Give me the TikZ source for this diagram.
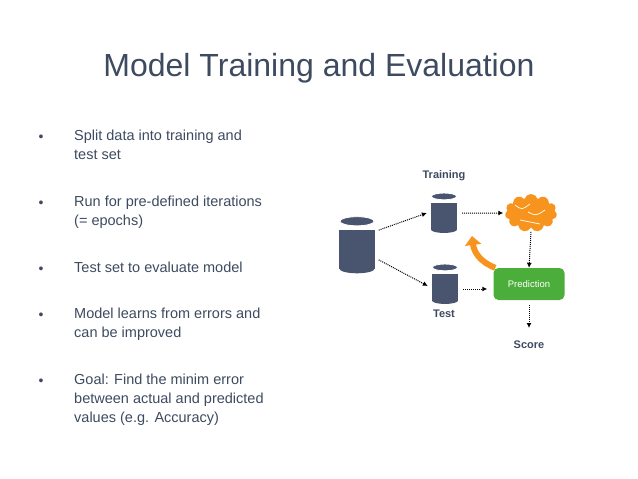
\documentclass[tikz,border=0pt]{standalone}
\usepackage{fontspec}
\setmainfont{Liberation Sans}
\usetikzlibrary{shapes.geometric,shapes.symbols,arrows.meta}
\definecolor{slate}{HTML}{3D4A5F}
\definecolor{cyl}{HTML}{49556E}
\definecolor{grn}{HTML}{4CAE3A}
\definecolor{org}{HTML}{F7941D}
\newcommand{\mycyl}[5]{% name, cx, cy, w, h
 \node[minimum width=#4pt,minimum height=#5pt,inner sep=0pt] (#1) at (#2,#3) {};
 \fill[cyl] (#1.north west) ++(0,{#4*0.13}) rectangle ([yshift={-#4*0.13}]#1.south east);
 \fill[cyl] ([yshift={-#4*0.13}]#1.south) ellipse [x radius={#4/2},y radius={#4*0.13}];
 \draw[white,line width=0.8pt,fill=cyl] ([yshift={#4*0.13}]#1.north) ellipse [x radius={#4/2-0.4},y radius={#4*0.13}];
}
\tikzset{
 lbl/.style={text=slate,font=\bfseries\fontsize{11}{13}\selectfont},
 dot/.style={densely dotted,line width=1pt,-{Latex[length=5pt,width=5pt]}},
 bul/.style={text=slate,anchor=north west,align=left,font=\fontsize{14.5}{19}\selectfont,inner sep=0pt}
}
\begin{document}
\begin{tikzpicture}[x=1pt,y=-1pt]
\useasboundingbox (0,0) rectangle (638,479);
\node[text=slate,font=\fontsize{32}{34}\selectfont] (title) at (319,68) {Model Training and Evaluation};
\foreach \y/\t in {130/{Split data into training and\\test set},196/{Run for pre-defined iterations\\(= epochs)},262/{Test set to evaluate model},308/{Model learns from errors and\\can be improved},374/{Goal: Find the minim error\\between actual and predicted\\values (e.g. Accuracy)}}{
 \node[bul] at (74,\y) {\t};
 \node[text=slate,font=\fontsize{14}{19}\selectfont] at (41,\y+8) {•};
}
\mycyl{big}{357}{245}{35}{38}
\mycyl{tr}{444}{213}{26}{26}
\mycyl{te}{445}{284}{26}{26}
\node[cloud,cloud puffs=11,aspect=1.4,fill=org,minimum width=52pt,minimum height=38pt,inner sep=0pt] (brain) at (531,213) {};
\draw[white,line width=0.7pt] (515,205) .. controls (522,210) .. (530,204) (528,212) .. controls (536,216) .. (545,210) (520,220) .. controls (530,222) .. (540,224);
\node[fill=grn,rounded corners=5pt,minimum width=71pt,minimum height=32pt,text=white,font=\fontsize{9.5}{10}\selectfont] (pred) at (529,284) {Prediction};
\node[lbl] (trl) at (444,176) {Training};
\node[lbl] (tel) at (444,314) {Test};
\node[lbl] (score) at (529,345) {Score};
\coordinate (sc) at (529,328);
\draw[dot] ([xshift=4pt]big.40) -- ([xshift=-4pt]tr.west);
\draw[dot] ([xshift=4pt]big.-40) -- ([xshift=-4pt,yshift=-2pt]te.west);
\draw[dot] ([xshift=5pt]tr.east) -- ([xshift=-2pt]brain.west);
\draw[dot] ([xshift=5pt,yshift=-5pt]te.east) -- ([xshift=-6pt,yshift=-5pt]pred.west);
\draw[dot] ([yshift=-4pt]brain.south) -- (pred.north);
\draw[dot] ([yshift=-5pt]pred.south) -- (sc);
\draw[org,line width=6pt,-{Triangle[length=9pt,width=16pt]}] ([xshift=2pt]pred.north west) .. controls (480,262) and (474,252) .. (472,236);
\end{tikzpicture}
\end{document}
